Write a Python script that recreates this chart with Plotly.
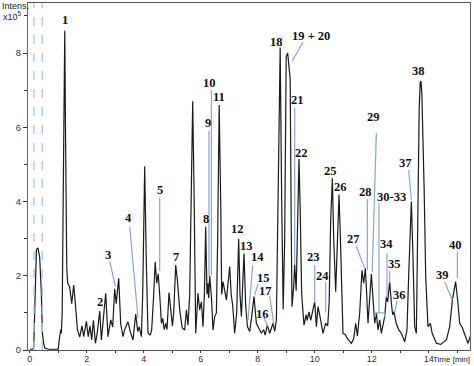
import plotly.graph_objects as go

# ---- chromatogram data (time in min, intensity in x10^5) ----
time_min = [
    0.00, 0.10, 0.14, 0.19, 0.235, 0.29, 0.35, 0.41, 0.445, 0.49, 0.53, 0.65, 1.00,
    1.05, 1.09, 1.11, 1.14, 1.18, 1.23, 1.26, 1.30, 1.333, 1.404, 1.474, 1.544, 1.596,
    1.674, 1.754, 1.835, 1.895, 1.989, 2.053, 2.116, 2.175, 2.235, 2.305, 2.368, 2.456,
    2.516, 2.579, 2.667, 2.747, 2.842, 2.912, 2.982, 3.035, 3.123, 3.193, 3.274, 3.333,
    3.449, 3.526, 3.625, 3.719, 3.789, 3.842, 3.919, 3.965, 4.035, 4.088, 4.151, 4.228,
    4.281, 4.351, 4.404, 4.456, 4.509, 4.561, 4.621, 4.667, 4.719, 4.772, 4.818, 4.888,
    4.947, 5.007, 5.053, 5.123, 5.182, 5.263, 5.351, 5.439, 5.498, 5.554, 5.614, 5.667,
    5.719, 5.772, 5.825, 5.905, 5.965, 6.025, 6.081, 6.130, 6.175, 6.221, 6.256, 6.281,
    6.316, 6.375, 6.432, 6.491, 6.551, 6.596, 6.649, 6.702, 6.737, 6.782, 6.902, 7.018,
    7.070, 7.123, 7.193, 7.263, 7.333, 7.379, 7.428, 7.519, 7.579, 7.639, 7.719, 7.789,
    7.870, 7.954, 8.035, 8.130, 8.211, 8.263, 8.340, 8.421, 8.537, 8.596, 8.656, 8.702,
    8.789, 8.842, 8.895, 8.947, 9.000, 9.053, 9.105, 9.140, 9.175, 9.204, 9.263, 9.298,
    9.351, 9.404, 9.449, 9.491, 9.544, 9.625, 9.702, 9.737, 9.800, 9.860, 9.912, 10.000,
    10.060, 10.116, 10.175, 10.228, 10.291, 10.386, 10.456, 10.509, 10.561, 10.621,
    10.667, 10.737, 10.789, 10.853, 10.895, 10.937, 10.993, 11.070, 11.158, 11.288,
    11.368, 11.439, 11.498, 11.579, 11.660, 11.719, 11.779, 11.825, 11.870, 11.989,
    12.035, 12.105, 12.165, 12.221, 12.281, 12.340, 12.456, 12.516, 12.561, 12.632,
    12.691, 12.737, 12.782, 12.860, 12.947, 13.042, 13.158, 13.239, 13.298, 13.393,
    13.449, 13.509, 13.568, 13.596, 13.625, 13.667, 13.702, 13.730, 13.761, 13.800,
    13.842, 13.895, 13.947, 13.975, 14.060, 14.123, 14.270, 14.421, 14.621, 14.737,
    14.832, 14.947, 15.028, 15.088, 15.182, 15.263, 15.379, 15.474,
]
intensity = [
    0.02, 0.02, 0.05, 1.5, 2.7, 2.75, 2.5, 1.5, 0.45, 0.18, 0.05, 0.02, 0.02,
    0.35, 0.55, 0.45, 1.0, 4.5, 8.6, 5.5, 2.2, 1.8, 1.7, 1.25, 1.75, 1.3,
    0.55, 0.35, 0.65, 0.36, 0.77, 0.36, 0.65, 0.27, 0.8, 0.18, 0.45, 1.05,
    0.27, 0.8, 1.53, 0.36, 0.81, 0.62, 1.65, 1.25, 1.93, 0.7, 0.36, 0.55,
    0.76, 0.5, 0.27, 0.97, 0.5, 0.62, 0.36, 1.5, 4.95, 2.5, 0.46, 0.4,
    0.55, 1.5, 2.38, 1.8, 2.05, 1.5, 0.72, 0.85, 0.55, 0.72, 0.55, 1.55,
    1.1, 0.65, 1.0, 2.29, 1.89, 1.08, 0.6, 0.54, 1.08, 0.67, 1.5, 4.5,
    6.7, 4.0, 0.45, 1.53, 1.08, 1.3, 0.63, 1.5, 3.32, 1.5, 1.8, 1.4,
    2.0, 1.44, 0.54, 0.9, 1.0, 3.0, 6.6, 4.0, 1.5, 1.84, 1.35, 2.25,
    1.5, 1.2, 0.45, 1.0, 3.0, 1.5, 0.9, 2.6, 1.2, 0.63, 0.5, 0.9,
    1.44, 0.72, 0.6, 0.45, 0.55, 0.4, 0.67, 0.45, 0.72, 0.5, 0.8, 3.0,
    8.15, 4.0, 1.1, 3.0, 7.9, 8.0, 7.6, 7.3, 3.5, 1.17, 1.7, 2.3,
    1.6, 3.5, 5.15, 3.8, 1.5, 0.67, 0.95, 0.8, 1.03, 0.8, 1.0, 1.3,
    0.63, 1.17, 0.95, 0.75, 0.45, 0.72, 0.65, 1.3, 3.5, 4.63,
    3.0, 1.57, 3.0, 4.18, 3.2, 1.7, 0.45, 0.42, 0.3, 0.18,
    0.3, 0.72, 0.38, 0.99, 2.15, 1.8, 2.2, 1.5, 0.72, 2.05,
    1.5, 0.72, 0.99, 0.54, 0.81, 0.45, 0.9, 1.44, 1.3, 1.84,
    1.26, 0.95, 1.03, 0.72, 0.55, 0.45, 0.22, 0.54, 2.0, 4.0,
    2.5, 0.63, 0.45, 2.5, 4.85, 6.5, 7.2, 7.25, 6.9, 5.8,
    4.3, 2.0, 0.8, 0.63, 0.72, 0.45, 0.18, 0.15, 0.27, 0.63,
    1.35, 1.84, 1.26, 0.72, 0.6, 0.4, 0.18, 0.4,
]

# ---- peak labels (text position in data units) ----
peak_labels = ["1", "2", "3", "4", "5", "7", "8", "9", "10", "11", "12", "13", "14",
               "15", "16", "17", "18", "19 + 20", "21", "22", "23", "24", "25", "26",
               "27", "28", "29", "30-33", "34", "35", "36", "37", "38", "39", "40"]
label_t = [1.228, 2.456, 2.737, 3.474, 4.561, 5.123, 6.175, 6.246, 6.316, 6.632, 7.28,
           7.614, 8.0, 8.211, 8.158, 8.281, 8.667, 9.86, 9.414, 9.533, 9.965, 10.27,
           10.544, 10.895, 11.368, 11.789, 12.081, 12.691, 12.509, 12.807, 12.982,
           13.182, 13.638, 14.48, 14.947]
label_I = [8.89, 1.29, 2.56, 3.56, 4.31, 2.51, 3.53, 6.12, 7.20, 6.82, 3.26, 2.80,
           2.51, 1.95, 0.97, 1.59, 8.30, 8.46, 6.74, 5.31, 2.51, 1.99, 4.82, 4.38,
           2.99, 4.25, 6.27, 4.12, 2.86, 2.32, 1.48, 5.03, 7.52, 2.02, 2.83]

# ---- leader lines (start t, start I, end t, end I) ----
leader_t0 = [2.807, 3.509, 4.561, 6.291, 6.375, 7.825, 8.01, 8.221, 8.421, 9.589, 9.298,
             10.0, 10.386, 11.463, 11.849, 12.165, 12.256, 12.123, 12.123, 12.456,
             12.537, 12.632, 12.888, 13.298, 14.561, 15.007]
leader_I0 = [2.40, 3.32, 4.10, 5.90, 7.01, 2.29, 1.78, 0.86, 1.46, 8.30, 6.52,
             2.29, 1.83, 2.80, 4.06, 5.85, 3.96, 1.0, 1.0, 1.0,
             2.61, 2.13, 1.32, 4.85, 1.83, 2.64]
leader_t1 = [3.007, 3.80, 4.561, 6.291, 6.375, 7.66, 7.895, 8.361, 8.572, 9.218, 9.298,
             10.0, 10.386, 11.754, 11.849, 12.018, 12.256, 12.456, 12.123, 12.456,
             12.537, 12.632, 12.807, 13.393, 14.832, 15.007]
leader_I1 = [1.70, 0.86, 2.13, 1.99, 2.02, 0.81, 1.48, 0.63, 0.67, 7.79, 2.29,
             1.27, 1.02, 2.20, 2.16, 2.10, 1.0, 1.0, 0.88, 0.88,
             1.40, 1.81, 1.0, 4.04, 1.35, 1.94]

marker_lines_t = [0.15, 0.44]

fig = go.Figure()
fig.add_trace(go.Scatter(x=time_min, y=intensity, mode="lines",
                         line=dict(color="#1a1a1a", width=1.2),
                         showlegend=False, hoverinfo="skip"))

for t in marker_lines_t:
    fig.add_shape(type="line", xref="x", yref="paper", x0=t, x1=t, y0=0, y1=1,
                  line=dict(color="#a6c2ec", width=1.3, dash="dash"))

for a, b, c, d in zip(leader_t0, leader_I0, leader_t1, leader_I1):
    fig.add_shape(type="line", xref="x", yref="y", x0=a, y0=b, x1=c, y1=d,
                  line=dict(color="#8aa6cc", width=1.2))

for txt, t, v in zip(peak_labels, label_t, label_I):
    fig.add_annotation(x=t, y=v, xref="x", yref="y", text="<b>" + txt + "</b>",
                       showarrow=False, xanchor="center", yanchor="middle",
                       font=dict(family="Liberation Serif", size=12.5, color="#111"))

fig.add_annotation(xref="paper", yref="paper", x=-0.0633, y=0.991, xanchor="left",
                   yanchor="middle", text="Intens.", showarrow=False,
                   font=dict(family="Liberation Sans", size=9, color="#222"))
fig.add_annotation(xref="paper", yref="paper", x=-0.009, y=0.962, xanchor="right",
                   yanchor="middle", text="x10<sup>5</sup>", showarrow=False,
                   font=dict(family="Liberation Sans", size=9, color="#222"))
fig.add_annotation(xref="paper", yref="paper", x=0.912, y=-0.026, xanchor="left",
                   yanchor="middle", text="Time [min]", showarrow=False,
                   font=dict(family="Liberation Sans", size=8, color="#222"))

fig.update_layout(
    width=474, height=366,
    margin=dict(l=28, r=4, t=3, b=16, autoexpand=False),
    paper_bgcolor="white", plot_bgcolor="white",
    xaxis=dict(range=[-0.06, 15.45], tickvals=[0, 2, 4, 6, 8, 10, 12, 14],
               ticks="outside", ticklen=2, tickcolor="#333", automargin=False,
               ticklabelstandoff=-2,
               minor=dict(tickvals=[1, 3, 5, 7, 9, 11, 13, 15], ticks="outside",
                          ticklen=2, tickcolor="#333"),
               showgrid=False, zeroline=False, showline=True, linecolor="#555",
               linewidth=1, mirror=True,
               tickfont=dict(family="Liberation Sans", size=9, color="#333")),
    yaxis=dict(range=[0, 9.35], tickvals=[0, 2, 4, 6, 8],
               ticks="outside", ticklen=4, tickcolor="#333", automargin=False,
               minor=dict(tickvals=[1, 3, 5, 7, 9], ticks="outside", ticklen=3,
                          tickcolor="#333"),
               showgrid=False, zeroline=False, showline=True, linecolor="#666",
               linewidth=1, mirror=True,
               tickfont=dict(family="Liberation Sans", size=9.5, color="#333")),
)

fig.write_html("out.html", config={"displayModeBar": False},
               post_script="document.body.style.margin='0';document.body.style.overflow='hidden';")
